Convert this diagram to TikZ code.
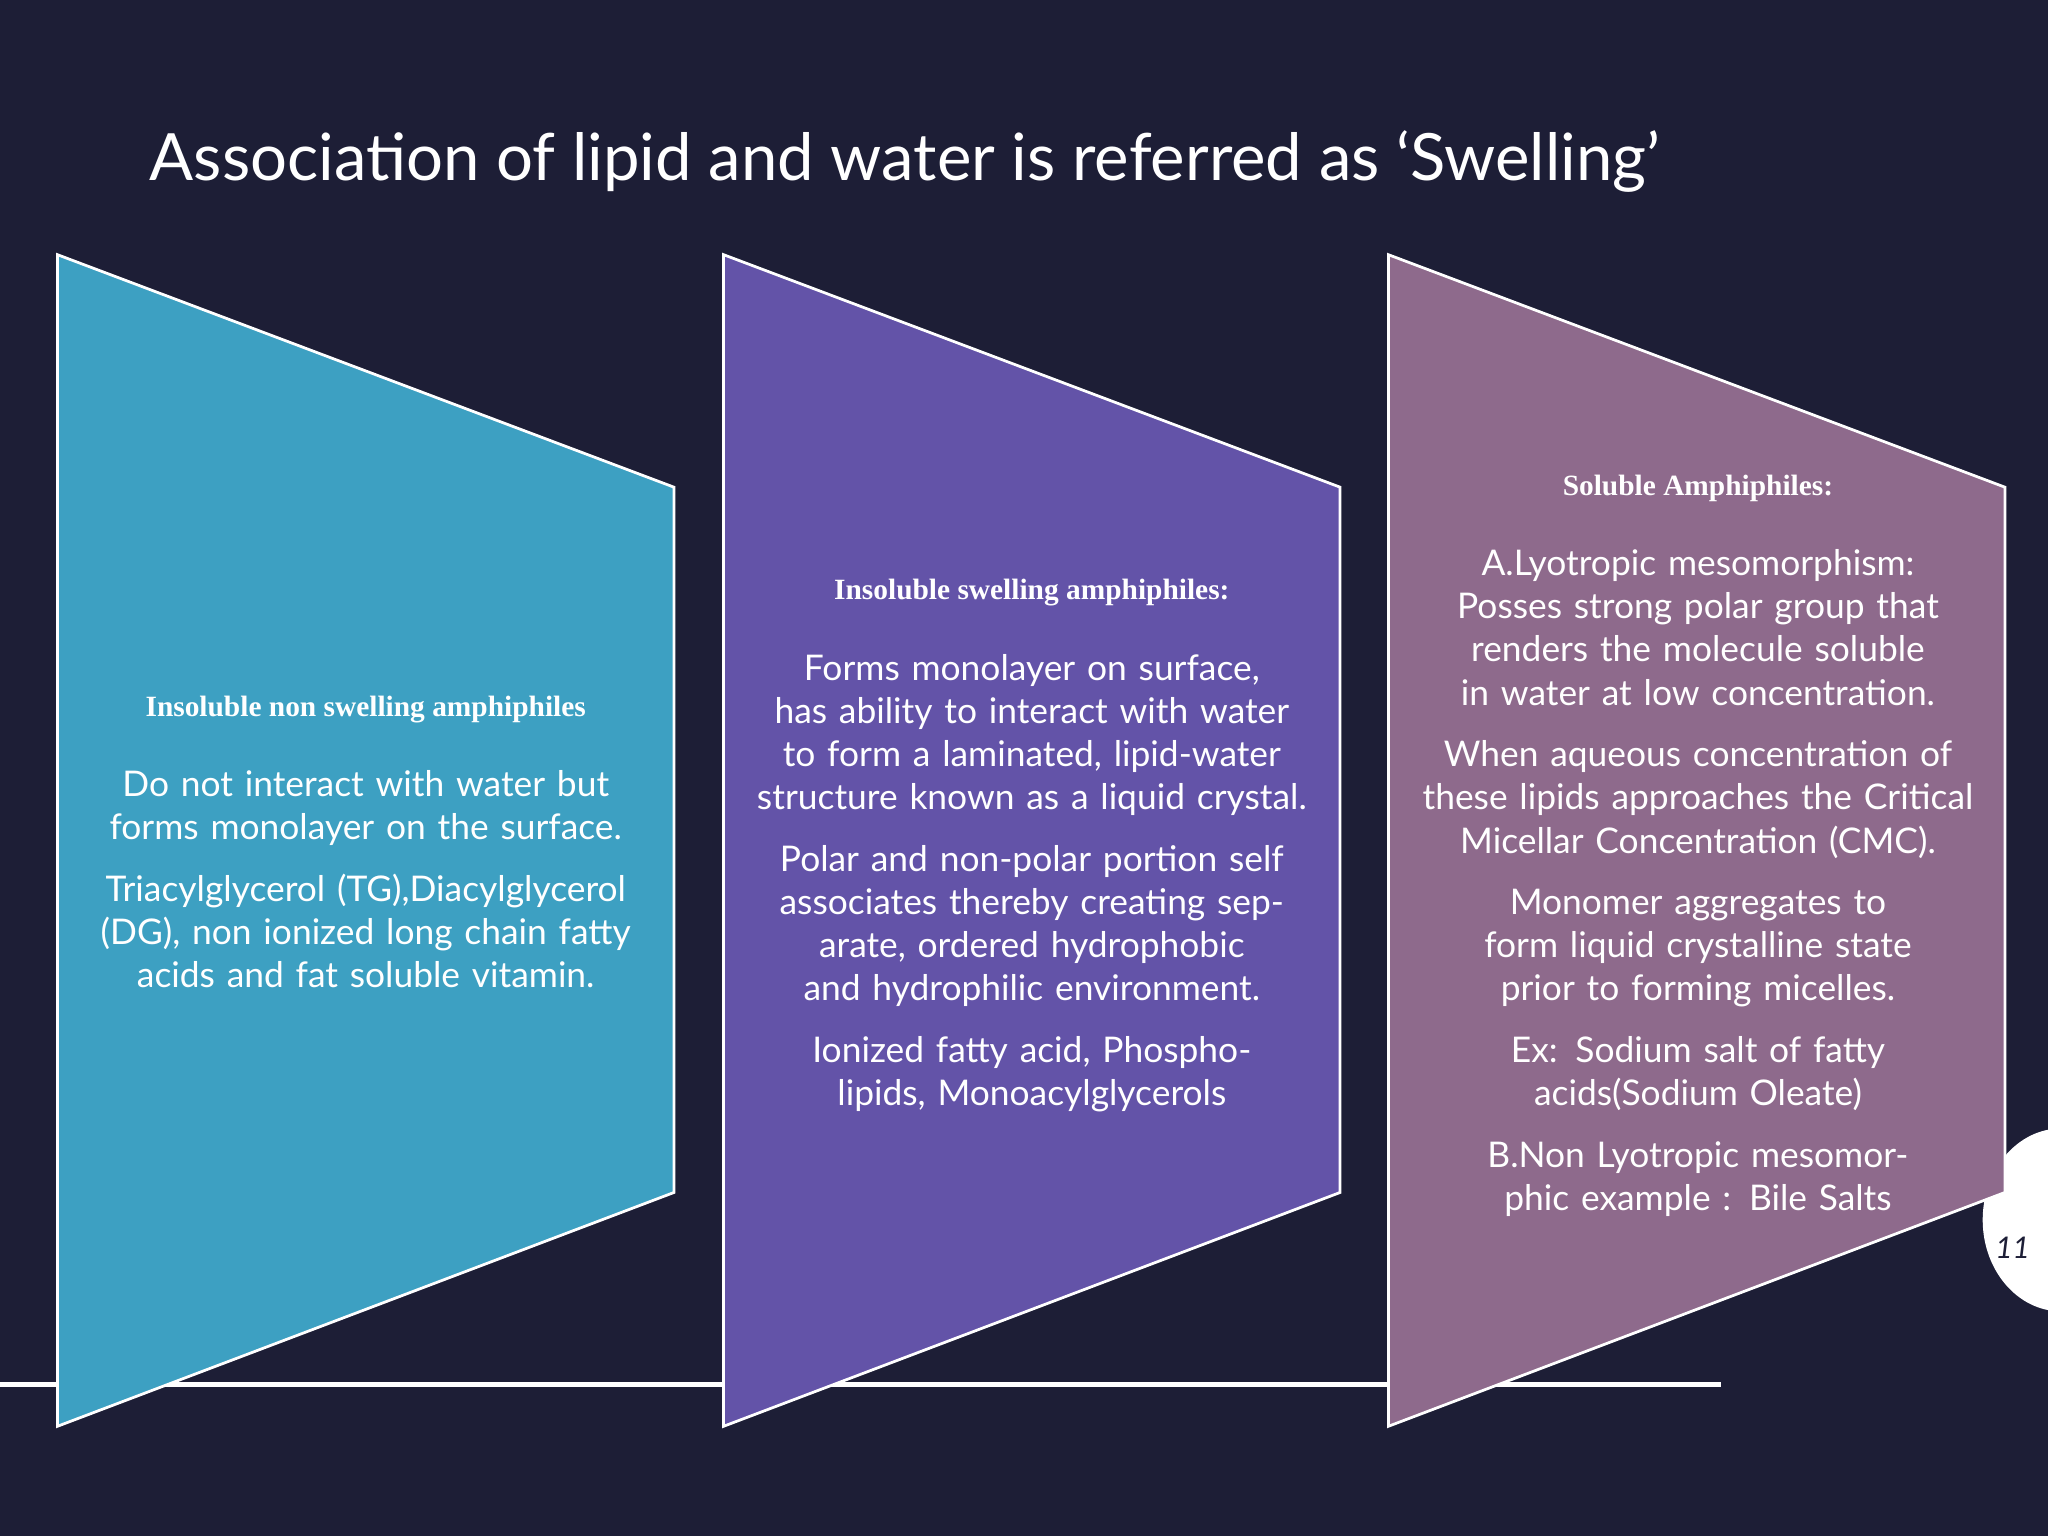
\documentclass[tikz,border=0pt]{standalone}
\usepackage{fontspec}
\setmainfont{Lato}
\newfontfamily\headfont{Liberation Serif}
\usetikzlibrary{positioning}
\definecolor{bgnavy}{HTML}{1D1E36}
\definecolor{panelA}{HTML}{3DA0C2}
\definecolor{panelB}{HTML}{6353A8}
\definecolor{panelC}{HTML}{8E6A8C}
\begin{document}
\begin{tikzpicture}[x=0.01cm,y=-0.01cm]
			\tikzset{Panel/.style = {draw=white, line width=0.6pt},
				Body/.style = {text=white, align=center, font=\fontsize{7.7}{9.4}\selectfont, inner sep=0pt},
				Head/.style = {text=white, font=\headfont\bfseries\fontsize{6.4}{8}\selectfont, inner sep=0pt}}
			
			\fill[bgnavy] (0,0) rectangle (1568,1176);
			\useasboundingbox (0,0) rectangle (1568,1176);
			\node[anchor=base west, text=white, inner sep=0pt, font=\fontsize{14.2}{17}\selectfont] (title) at (114,138) {Association of lipid and water is referred as `Swelling'};
			
			\fill[white] (1578,934) ellipse (60 and 70);
			\node[font=\itshape\fontsize{6.5}{8}\selectfont, text=bgnavy] (page) at (1541,955) {11};
			
			\coordinate (lineL) at (0,1060);
			\coordinate (lineR) at (1318,1060);
			\draw[white, line width=1pt] (lineL) -- (lineR);
			
			\foreach \x/\c in {44/panelA, 554/panelB, 1063/panelC}
				\filldraw[Panel, fill=\c] (\x,195) -- (\x+472,373) -- (\x+472,913) -- (\x,1092) -- cycle;
			
			% first panel
			\node[Head] (headA) at (280,543) {Insoluble non swelling amphiphiles};
			\node[Body, text width=4.35cm, below=10pt of headA] (textA) {Do not interact with water but forms monolayer on the surface.\\[4pt]
				Triacylglycerol (TG),Diacylglycerol (DG), non ionized long chain fatty acids and fat soluble vitamin.};
			
			% second panel
			\node[Head] (headB) at (790,454) {Insoluble swelling amphiphiles:};
			\node[Body, text width=4.45cm, below=10pt of headB] (textB) {Forms monolayer on surface, has ability to interact with water to form a laminated, lipid-water structure known as a liquid crystal.\\[4pt]
				Polar and non-polar portion self associates thereby creating separate, ordered hydrophobic and hydrophilic environment.\\[4pt]
				Ionized fatty acid, Phospholipids, Monoacylglycerols};
			
			% third panel
			\node[Head] (headC) at (1300,374) {Soluble Amphiphiles:};
			\node[Body, text width=4.35cm, below=10pt of headC] (textC) {A.Lyotropic mesomorphism: Posses strong polar group that renders the molecule\ soluble\ in water at low concentration.\\[4pt]
				When aqueous concentration of these lipids approaches the Critical Micellar Concentration (CMC).\\[4pt]
				Monomer aggregates to form liquid crystalline state prior to forming micelles.\\[4pt]
				Ex: Sodium salt of fatty acids(Sodium Oleate)\\[4pt]
				B.Non Lyotropic mesomorphic example : Bile Salts};
		\end{tikzpicture}
\end{document}
